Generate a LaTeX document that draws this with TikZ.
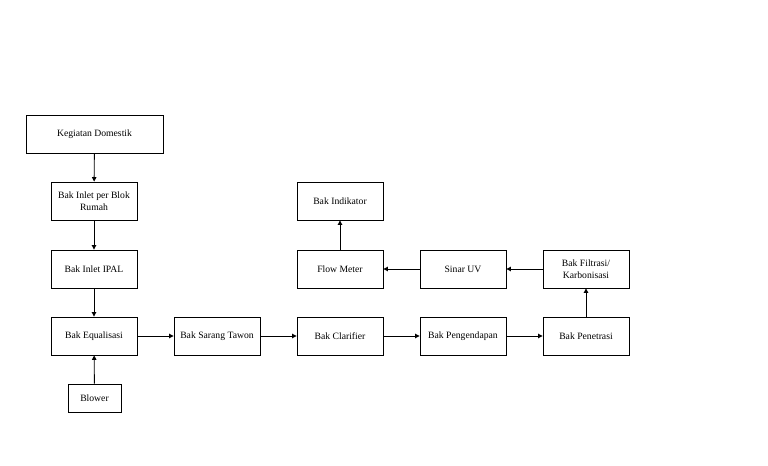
\documentclass[tikz,border=0pt]{standalone}
\usepackage{fontspec}
\setmainfont{Liberation Serif}
\usetikzlibrary{arrows.meta}

\begin{document}
\begin{tikzpicture}[x=0.04cm, y=-0.04cm,
      font=\fontsize{11}{13}\selectfont,
      blok/.style={draw, line width=1pt, minimum width=3.44cm,
                   minimum height=1.52cm, inner sep=2pt},
      panah/.style={line width=1pt, -{Triangle[length=5pt,width=5pt]}},
      every node/.style={align=center}]
    \useasboundingbox (0,0) rectangle (768,466);
    \node[blok, minimum width=5.48cm] (keg) at (94.5,134) {Kegiatan Domestik};
    \node[blok] (rum) at (94,201) {Bak Inlet per Blok\\Rumah};
    \node[blok] (ipal) at (94,269) {Bak Inlet IPAL};
    \node[blok] (equ) at (94,336) {Bak Equalisasi};
    \node[blok, minimum width=2.12cm, minimum height=1.12cm] (blo) at (94.5,398) {Blower};
    \node[blok] (sar) at (217,336) {Bak Sarang Tawon};
    \node[blok] (cla) at (340,336) {Bak Clarifier};
    \node[blok] (pen) at (463,336) {Bak Pengendapan};
    \node[blok] (pnt) at (586,336) {Bak Penetrasi};
    \node[blok] (fil) at (586,269) {Bak Filtrasi/\\Karbonisasi};
    \node[blok] (uv) at (463,269) {Sinar UV};
    \node[blok] (flo) at (340,269) {Flow Meter};
    \node[blok] (ind) at (340,201) {Bak Indikator};
    \draw[panah] (keg) -- (rum);
    \draw[panah] (rum) -- (ipal);
    \draw[panah] (ipal) -- (equ);
    \draw[panah] (blo) -- (equ);
    \foreach \a/\b in {equ/sar,sar/cla,cla/pen,pen/pnt,pnt/fil,fil/uv,uv/flo,flo/ind}
      {\draw[panah] (\a) -- (\b);}
\end{tikzpicture}
\end{document}
